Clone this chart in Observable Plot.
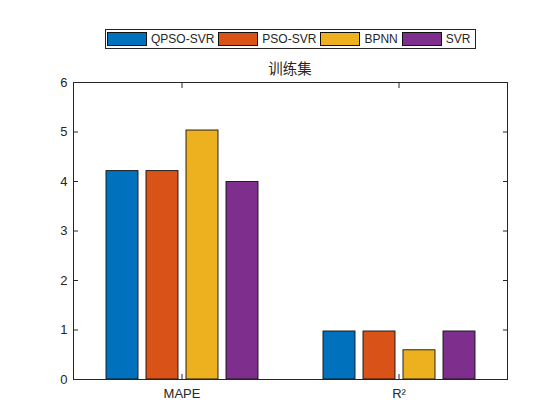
<!DOCTYPE html>
<html>
<head>
<meta charset="utf-8">
<script src="https://cdn.jsdelivr.net/npm/d3@7"></script>
<script src="https://cdn.jsdelivr.net/npm/@observablehq/plot@0.6"></script>
<style>
  body { margin: 0; background: white; font-family: "Liberation Sans", Arial, sans-serif; color: #262626; }
  #wrap { width: 560px; height: 420px; position: relative; overflow: hidden; }
  #legend-row { height: 58px; position: relative; }
  #legend { position: absolute; left: 105px; top: 29px; height: 18px; border: 1px solid #262626;
            display: flex; align-items: center; padding: 0 1px 0 1px; font-size: 12px; background: white; }
  #legend .sw { width: 38px; height: 12px; border: 1px solid #111; margin-right: 4px; }
  #legend .lb { margin-right: 4px; }
  #title { height: 20px; line-height: 20px; text-align: center; font-family: "Noto Sans CJK SC", sans-serif;
           font-size: 14.5px; padding-left: 20px; margin-bottom: 2px; }
</style>
</head>
<body>
<div id="wrap">
  <div id="legend-row"><div id="legend"></div></div>
  <div id="title">训练集</div>
  <div id="chart"></div>
</div>
<script>
const groups = ["MAPE", "R²"];
const models = ["QPSO-SVR", "PSO-SVR", "BPNN", "SVR"];
const colors = ["#0072BD", "#D95319", "#EDB120", "#7E2F8E"];
const mapeValues = [4.21, 4.21, 5.03, 3.99];
const r2Values = [0.97, 0.97, 0.59, 0.97];
const yTicks = [0, 1, 2, 3, 4, 5, 6];

// one row per bar
const rows = [
  ...models.map((m, i) => ({group: groups[0], model: m, value: mapeValues[i]})),
  ...models.map((m, i) => ({group: groups[1], model: m, value: r2Values[i]}))
];

// legend (html, above the svg)
const legend = d3.select("#legend");
models.forEach((m, i) => {
  legend.append("div").attr("class", "sw").style("background", colors[i]);
  legend.append("div").attr("class", "lb").text(m);
});

const axisColor = "#262626";

let chart = Plot.plot({
  width: 560,
  height: 340,
  marginTop: 2,
  marginBottom: 41,
  marginLeft: 73,
  marginRight: 53,
  style: {
    fontFamily: '"Liberation Sans", Arial, sans-serif',
    fontSize: "13px",
    color: axisColor,
    background: "white",
    overflow: "visible"
  },
  fx: {domain: groups, padding: 0},
  x: {domain: models, paddingInner: 0.2, paddingOuter: 0.8125, axis: null},
  y: {domain: [0, 6]},
  color: {domain: models, range: colors},
  marks: [
    Plot.barY(rows, {fx: "group", x: "model", y: "value", fill: "model", stroke: "#111", strokeWidth: 0.9}),
    Plot.frame({anchor: "top", stroke: axisColor}),
    Plot.frame({anchor: "bottom", stroke: axisColor}),
    Plot.frame({anchor: "left", stroke: axisColor, fx: [groups[0]]}),
    Plot.frame({anchor: "right", stroke: axisColor, fx: [groups[1]]}),
    Plot.axisY({anchor: "left", ticks: yTicks, tickSize: -5, tickPadding: 11, tickFormat: d => d, label: null}),
    Plot.axisY({anchor: "right", ticks: yTicks, tickSize: -5, tickFormat: () => "", label: null}),
    Plot.axisFx({anchor: "bottom", tickSize: -5, tickPadding: 14, label: null}),
    Plot.axisFx({anchor: "top", tickSize: -5, tickFormat: () => "", label: null})
  ]
});

d3.select("#chart").append(() => chart);
</script>
</body>
</html>
